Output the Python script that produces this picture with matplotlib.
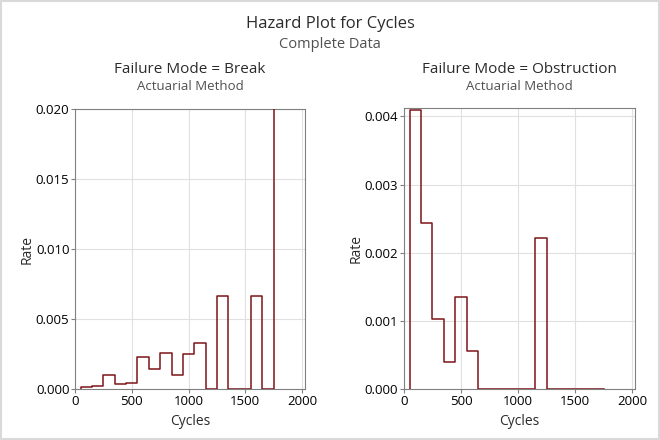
import matplotlib.pyplot as plt
from matplotlib.patches import Rectangle

plt.rcParams['font.family'] = ['Open Sans', 'DejaVu Sans']

# interval edges (cycles) and actuarial hazard rates
edges = [50, 150, 250, 350, 450, 550, 650, 750, 850, 950, 1050, 1150,
         1250, 1350, 1450, 1550, 1650, 1750]
break_rate = [0.00017, 0.0002, 0.001, 0.00036, 0.00043, 0.00229, 0.00143,
              0.00257, 0.00098, 0.0025, 0.00329, 0.0, 0.00664, 0.0, 0.0,
              0.00664, 0.0]
obstr_rate = [0.0041, 0.00243, 0.00103, 0.0004, 0.00135, 0.00056, 0.0, 0.0,
              0.0, 0.0, 0.0, 0.00222, 0.0, 0.0, 0.0, 0.0, 0.0]

line_col = '#7d1518'
spine_col = '#808080'
grid_col = '#e0e0e0'
text_col = '#2b2b2b'

fig = plt.figure(figsize=(6.6, 4.4), dpi=100)
fig.patches.append(Rectangle((0.002, 0.002), 0.996, 0.996, transform=fig.transFigure,
                             fill=False, edgecolor='#d9d9d9', linewidth=1.5))

fig.text(0.5, 0.945, 'Hazard Plot for Cycles', ha='center', va='center',
         fontsize=12, color=text_col)
fig.text(0.5, 0.900, 'Complete Data', ha='center', va='center',
         fontsize=10.5, color='#505050')

ax1 = fig.add_axes([0.1136, 0.116, 0.3485, 0.636])
ax2 = fig.add_axes([0.612, 0.116, 0.350, 0.638])

panels = [
    (ax1, 'Break', break_rate, (0, 0.020), [0, 0.005, 0.010, 0.015, 0.020]),
    (ax2, 'Obstruction', obstr_rate, (0, 0.00412), [0, 0.001, 0.002, 0.003, 0.004]),
]

for ax, mode, rate, ylim, yticks in panels:
    xs = [edges[0]]
    ys = [0]
    for i, r in enumerate(rate):
        xs += [edges[i], edges[i + 1]]
        ys += [r, r]
    xs.append(edges[-1])
    if mode == 'Break':
        ys.append(1.0)  # last interval rate runs off the scale
    else:
        ys.append(0)
    ax.plot(xs, ys, color=line_col, linewidth=1.1, zorder=3)

    ax.set_xlim(0, 2025)
    ax.set_ylim(*ylim)
    ax.set_xticks([0, 500, 1000, 1500, 2000])
    ax.set_yticks(yticks)
    ax.set_yticklabels(['%.3f' % v for v in yticks])
    ax.grid(True, color=grid_col, linewidth=0.8)
    ax.set_axisbelow(True)
    for s in ax.spines.values():
        s.set_color(spine_col)
    ax.tick_params(colors=spine_col, labelcolor='black', labelsize=9.5,
                   length=3, pad=1)
    ax.set_xlabel('Cycles', fontsize=10, color=text_col, labelpad=5)
    ax.set_ylabel('Rate', fontsize=10, color=text_col, labelpad=1)

    pos = ax.get_position()
    cx = pos.x0 + pos.width / 2
    fig.text(cx, 0.842, 'Failure Mode = ' + mode, ha='center', va='center',
             fontsize=11, color=text_col)
    fig.text(cx, 0.804, 'Actuarial Method', ha='center', va='center',
             fontsize=9.5, color='#505050')

fig.savefig('out.png', dpi=100)
